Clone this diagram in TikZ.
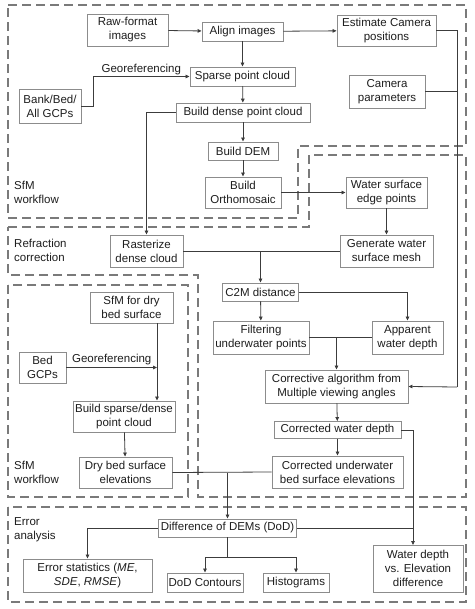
\documentclass[tikz,border=0pt]{standalone}
\usepackage{fontspec}
\setmainfont{Liberation Sans}
\usetikzlibrary{arrows.meta,calc}
\definecolor{boxc}{HTML}{8C8C8C}
\definecolor{linec}{HTML}{3C3C3C}
\definecolor{dashc}{HTML}{7A7A7A}
\definecolor{txtc}{HTML}{1E1E1E}
\begin{document}
\begin{tikzpicture}[x=1pt,y=-1pt,
  bx/.style={draw=boxc,line width=0.9pt,fill=white,inner sep=0pt,align=center,text=txtc,
    font=\fontsize{11.5}{14}\selectfont},
  lbl/.style={inner sep=0pt,align=left,anchor=west,text=txtc,font=\fontsize{11.5}{14}\selectfont},
  ln/.style={draw=linec,line width=0.8pt},
  ar/.style={ln,-{Triangle[length=4pt,width=3.6pt]}},
  grp/.style={draw=dashc,line width=1.5pt,dash pattern=on 9pt off 5pt}]
\useasboundingbox (0,0) rectangle (474,609);
\fill[white] (0,0) rectangle (474,609);
% group outlines
\draw[grp] (8,5) -- (466,5) -- (466,146) -- (298,146) -- (298,218) -- (8,218) -- cycle;
\draw[grp] (8,227) -- (309,227) -- (309,155) -- (466,155) -- (466,497) -- (198,497) -- (198,275) -- (8,275) -- cycle;
\draw[grp] (8,285) rectangle (188,497);
\draw[grp] (8,507) rectangle (466,602);
% group labels
\node[lbl] (l1) at (14,192.5) {SfM\\workflow};
\node[lbl] (l2) at (14,250.5) {Refraction\\correction};
\node[lbl] (l3) at (14,472.5) {SfM\\workflow};
\node[lbl] (l4) at (14,530) {Error\\analysis};
% nodes
\node[bx,minimum width=81pt,minimum height=32pt] (raw) at (127.5,30) {Raw-format\\images};
\node[bx,minimum width=81pt,minimum height=19pt] (align) at (242.5,31.5) {Align images};
\node[bx,minimum width=99pt,minimum height=31pt] (est) at (386.5,30.5) {Estimate Camera\\positions};
\node[bx,minimum width=105pt,minimum height=19pt] (sparse) at (242.5,76.5) {Sparse point cloud};
\node[bx,minimum width=62pt,minimum height=34pt] (gcp) at (50,106) {Bank/Bed/\\All GCPs};
\node[bx,minimum width=134pt,minimum height=19pt] (dense) at (243,112.5) {Build dense point cloud};
\node[bx,minimum width=76pt,minimum height=33pt] (campar) at (387,91.5) {Camera\\parameters};
\node[bx,minimum width=70pt,minimum height=18pt] (dem) at (243,151) {Build DEM};
\node[bx,minimum width=76pt,minimum height=31pt] (ortho) at (243,192.5) {Build\\Orthomosaic};
\node[bx,minimum width=81pt,minimum height=31pt] (wsep) at (386.5,192.5) {Water surface\\edge points};
\node[bx,minimum width=73pt,minimum height=32pt] (raster) at (146.5,251) {Rasterize\\dense cloud};
\node[bx,minimum width=93pt,minimum height=32pt] (mesh) at (386.5,251) {Generate water\\surface mesh};
\node[bx,minimum width=76pt,minimum height=18pt] (c2m) at (260.5,292) {C2M distance};
\node[bx,minimum width=96pt,minimum height=33pt] (filt) at (261,337.5) {Filtering\\underwater points};
\node[bx,minimum width=71pt,minimum height=33pt] (app) at (407.5,337.5) {Apparent\\water depth};
\node[bx,minimum width=143pt,minimum height=33pt] (corr) at (336.5,386.5) {Corrective algorithm from\\Multiple viewing angles};
\node[bx,minimum width=127pt,minimum height=17pt] (cwd) at (337.5,430) {Corrected water depth};
\node[bx,minimum width=131pt,minimum height=32pt] (cub) at (337.5,472) {Corrected underwater\\bed surface elevations};
\node[bx,minimum width=83pt,minimum height=31pt] (sfmdry) at (131.5,307.5) {SfM for dry\\bed surface};
\node[bx,minimum width=47pt,minimum height=31pt] (bedgcp) at (42.5,367.5) {Bed\\GCPs};
\node[bx,minimum width=102pt,minimum height=31pt] (bsd) at (124,416.5) {Build sparse/dense\\point cloud};
\node[bx,minimum width=93pt,minimum height=31pt] (drybed) at (125.5,472.5) {Dry bed surface\\elevations};
\node[bx,minimum width=138pt,minimum height=18pt] (dod) at (227.5,528) {Difference of DEMs (DoD)};
\node[bx,minimum width=129pt,minimum height=33pt] (errstat) at (87.5,575.5) {Error statistics (\textit{ME},\\\textit{SDE}, \textit{RMSE})};
\node[bx,minimum width=76pt,minimum height=19pt] (dodc) at (205,582.5) {DoD Contours};
\node[bx,minimum width=66pt,minimum height=19pt] (hist) at (296,582.5) {Histograms};
\node[bx,minimum width=90pt,minimum height=47pt] (wvs) at (418,568.5) {Water depth\\vs. Elevation\\difference};
% junction coordinates
\coordinate (gj) at (93,106);
\coordinate (camx) at (457,387);
\coordinate (gx) at (157,367.5);
\coordinate (wd) at (413,545);
\coordinate (dj) at (227.5,557);
% connectors
\draw[ar] (raw) -- (align);
\draw[ar] (align) -- (est);
\draw[ar] (align) -- (sparse);
\draw[ar] (sparse) -- (dense);
\draw[ar] (dense) -- (dem);
\draw[ar] (dem) -- (ortho);
\draw[ar] (gcp.east) -- (gj) |- (sparse.west) node[pos=0.75,above=1.5pt,inner sep=0pt,text=txtc,font=\fontsize{11.5}{14}\selectfont] (geo1) {Georeferencing};
\draw[ar] (dense.west) -| (raster.north);
\draw[ar] (ortho) -- (wsep);
\draw[ar] (wsep) -- (mesh);
\draw[ln] (raster.east) -- (mesh.west);
\draw[ar] (raster.east -| c2m.north) -- (c2m.north);
\draw[ar] (c2m) -- (filt);
\draw[ar] (c2m.east) -| (app.north);
\draw[ln] (filt.east) -- (app.west);
\draw[ar] (filt.east -| corr.north) -- (corr.north);
\draw[ln] (est.east) -| (camx);
\draw[ar] (camx) -- (corr.east);
\draw[ln] (campar.east) -- (campar.east -| camx);
\draw[ar] (corr) -- (cwd);
\draw[ar] (cwd) -- (cub);
\draw[ar] (cwd.east) -| (wd);
\draw[ar] (sfmdry.south -| gx) -- (bsd.north -| gx);
\draw[ar] (bedgcp.east) -- (gx) node[midway,above=2pt,inner sep=0pt,text=txtc,font=\fontsize{11.5}{14}\selectfont] (geo2) {Georeferencing};
\draw[ar] (bsd) -- (drybed);
\draw[ln] (drybed.east) -- (cub.west);
\draw[ar] (drybed.east -| dod.north) -- (dod.north);
\draw[ar] (dod.west) -| (errstat.north);
\draw[ln] (dod.east) -- (dod.east -| wd);
\draw[ln] (dod.south) -- (dj);
\draw[ar] (dj) -| (dodc.north);
\draw[ar] (dj) -| (hist.north);
\end{tikzpicture}
\end{document}
